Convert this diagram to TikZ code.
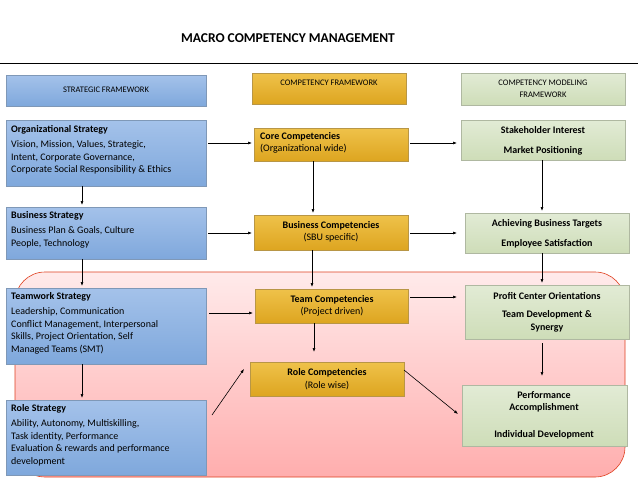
\documentclass[tikz,border=0pt]{standalone}
\usepackage{fontspec}
\setmainfont{Carlito}
\usetikzlibrary{arrows.meta}
\definecolor{bl}{HTML}{7FA8DC}
\definecolor{blt}{HTML}{A4C2EA}
\definecolor{go}{HTML}{DDA520}
\definecolor{got}{HTML}{EFC24A}
\definecolor{gr}{HTML}{CEDDB8}
\definecolor{grt}{HTML}{E2EBD5}
\begin{document}
\begin{tikzpicture}[x=1pt,y=-1pt,
 box/.style={draw=#1!60!gray,line width=0.6pt,top color=#1t,bottom color=#1},
 arr/.style={-{Latex[length=4pt,width=3pt]},line width=0.6pt},
 t/.style={font=\fontsize{10}{12.5}\selectfont,align=left,anchor=north west,inner sep=0pt},
 c/.style={font=\fontsize{10}{12.5}\selectfont,align=center,inner sep=0pt}]
\useasboundingbox (0,0) rectangle (638,479);
\fill[white] (0,0) rectangle (638,479);
% pink region
\draw[draw=red!50!brown,line width=0.6pt,top color=red!8,bottom color=red!32,rounded corners=30pt] (15,477) rectangle (625,272);
\node[font=\fontsize{13.5}{15}\selectfont\bfseries] (title) at (288,38) {MACRO COMPETENCY MANAGEMENT};
\draw[line width=0.8pt] (0,63) -- (638,63);
% headers
\draw[box=bl] (6,75) rectangle (206,106);
\node[c,font=\fontsize{8.5}{10}\selectfont] (h1) at (106,90) {STRATEGIC FRAMEWORK};
\draw[box=go] (252,73) rectangle (406,104);
\node[c,font=\fontsize{8.5}{10}\selectfont] (h2) at (329,83) {COMPETENCY FRAMEWORK};
\draw[box=gr] (461,73) rectangle (625,105);
\node[c,font=\fontsize{8.5}{11.5}\selectfont] (h3) at (543,89) {COMPETENCY MODELING\\FRAMEWORK};
% left column
\draw[box=bl] (6,120) rectangle (206,186);
\node[t] (ost) at (11,125) {\textbf{Organizational Strategy}\\[3pt]Vision, Mission, Values, Strategic,\\Intent, Corporate Governance,\\Corporate Social Responsibility \& Ethics};
\draw[box=bl] (6,207) rectangle (206,259);
\node[t] (bst) at (11,211) {\textbf{Business Strategy}\\[3pt]Business Plan \& Goals, Culture\\People, Technology};
\draw[box=bl] (6,288) rectangle (206,364);
\node[t] (tst) at (11,292) {\textbf{Teamwork Strategy}\\[3pt]Leadership, Communication\\Conflict Management, Interpersonal\\Skills, Project Orientation, Self\\Managed Teams (SMT)};
\draw[box=bl] (6,400) rectangle (206,475);
\node[t] (rst) at (11,404) {\textbf{Role Strategy}\\[3pt]Ability, Autonomy, Multiskilling,\\Task identity, Performance\\Evaluation \& rewards and performance\\development};
% middle column
\draw[box=go] (254,128) rectangle (408,161);
\node[t] (cc) at (260,132) {\textbf{Core Competencies}\\(Organizational wide)};
\draw[box=go] (254,215) rectangle (408,250);
\node[c] (bc) at (331,232) {\textbf{Business Competencies}\\(SBU specific)};
\draw[box=go] (255,289) rectangle (408,323);
\node[c] (tc) at (332,306) {\textbf{Team Competencies}\\(Project driven)};
\draw[box=go] (250,362) rectangle (404,396);
\node[c] (rc) at (327,379) {\textbf{Role Competencies}\\(Role wise)};
% right column
\draw[box=gr] (461,120) rectangle (625,160);
\node[c,font=\fontsize{10}{20}\selectfont] (sh) at (543,141) {\textbf{Stakeholder Interest}\\\textbf{Market Positioning}};
\draw[box=gr] (465,213) rectangle (629,253);
\node[c,font=\fontsize{10}{20}\selectfont] (ab) at (547,234) {\textbf{Achieving Business Targets}\\\textbf{Employee Satisfaction}};
\draw[box=gr] (465,285) rectangle (629,339);
\node[c] (pc) at (547,312) {\textbf{Profit Center Orientations}\\[6pt]\textbf{Team Development \&}\\\textbf{Synergy}};
\draw[box=gr] (462,385) rectangle (627,446);
\node[c] (pa) at (544,415) {\textbf{Performance}\\\textbf{Accomplishment}\\[14pt]\textbf{Individual Development}};
% arrows horizontal
\draw[arr] (208,143) -- (252,143);
\draw[arr] (208,233) -- (252,233);
\draw[arr] (209,313) -- (253,313);
\draw[arr] (212,415) -- (244,369);
\draw[arr] (410,143) -- (457,143);
\draw[arr] (410,233) -- (457,233);
\draw[arr] (410,297) -- (457,297);
\draw[arr] (404,370) -- (458,414);
% arrows vertical
\draw[arr] (82,186) -- (82,205);
\draw[arr] (82,259) -- (82,286);
\draw[arr] (82,364) -- (82,398);
\draw[arr] (313,161) -- (313,213);
\draw[arr] (312,250) -- (312,287);
\draw[arr] (314,323) -- (314,352);
\draw[arr] (542,160) -- (542,211);
\draw[arr] (542,253) -- (542,283);
\draw[arr] (542,343) -- (542,376);
\end{tikzpicture}
\end{document}
